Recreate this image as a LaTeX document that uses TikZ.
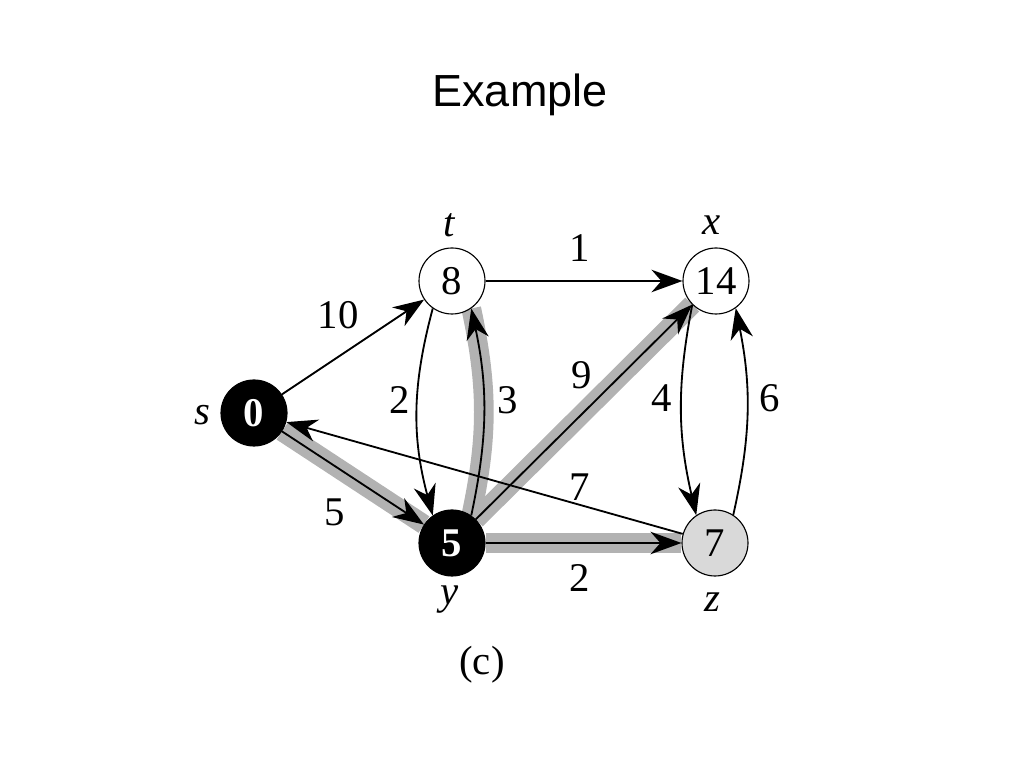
\documentclass[tikz,border=0pt]{standalone}
\usepackage{fontspec}
\setmainfont{Liberation Serif}
\newfontfamily\titlefont{Liberation Sans}
\usetikzlibrary{arrows.meta,backgrounds}
\tikzset{
  vertex/.style={circle, draw, fill=white, line width=0.8pt, minimum size=1.65cm, inner sep=0pt},
  donevertex/.style={vertex, fill=black, text=white, font=\fontsize{29}{32}\selectfont\bfseries},
  graystyle/.style={vertex, fill=black!15},
  edge/.style={-{Stealth[length=22pt,width=16pt,inset=7pt]}, line width=1.3pt},
  band/.style={line width=14pt, draw=black!30},
}
\begin{document}
\begin{tikzpicture}[font=\fontsize{29}{32}\selectfont]
\useasboundingbox (0,0) rectangle (25.6,19.2);
\node[font=\titlefont\fontsize{32}{36}\selectfont] (title) at (13.0,16.825) {Example};
% vertices
\node[donevertex] (s) at (6.35,8.875) {0};
\node[vertex] (t) at (11.3,12.175) {8};
\node[vertex] (x) at (17.9,12.175) {14};
\node[donevertex] (y) at (11.3,5.625) {5};
\node[graystyle] (z) at (17.875,5.625) {7};
% vertex names
\node (ls) at (5.05,8.825) {\textit{s}};
\node (lt) at (11.25,13.575) {\textit{t}};
\node (lx) at (17.8,13.575) {\textit{x}};
\node (ly) at (11.25,4.2) {\textit{y}};
\node (lz) at (17.8,4.15) {\textit{z}};
% shortest-path tree
\begin{scope}[on background layer]
\draw[band] (s) -- (y);
\draw[band] (y.55) to[bend right=12] (t.305);
\draw[band] (y) -- (x);
\draw[band] (y) -- (z);
\end{scope}
% edges
\draw[edge] (s) -- (t);
\draw[edge] (s) -- (y);
\draw[edge] (t) -- (x);
\draw[edge] (t.235) to[bend right=15] (y.125);
\draw[edge] (y.55) to[bend right=12] (t.305);
\draw[edge] (y) -- (x);
\draw[edge] (y) -- (z);
\draw[edge] (x.225) to[bend right=12] (z.124);
\draw[edge] (z.57) to[bend right=12] (x.306);
\draw[edge] (z) -- (s);
% weights
\node (w10) at (8.45,11.325) {10};
\node (w5) at (8.375,6.4) {5};
\node (w1) at (14.5,13.0) {1};
\node (w2a) at (10.0,9.2) {2};
\node (w3) at (12.7,9.2) {3};
\node (w9) at (14.55,9.825) {9};
\node (w4) at (16.55,9.25) {4};
\node (w6) at (19.25,9.25) {6};
\node (w7) at (14.5,7.025) {7};
\node (w2b) at (14.5,4.75) {2};
\node (cap) at (12.05,2.575) {(c)};
\end{tikzpicture}
\end{document}
